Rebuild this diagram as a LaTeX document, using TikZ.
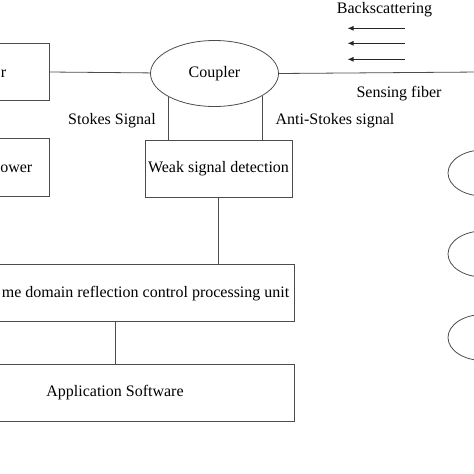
\documentclass[tikz,border=0pt]{standalone}
\usepackage{fontspec}
\setmainfont{Liberation Serif}
\usetikzlibrary{shapes.geometric,arrows.meta}
\tikzset{
  unitbox/.style={draw=black!70,line width=0.8pt,minimum height=57pt,inner sep=0pt},
  oval/.style={ellipse,draw=black!70,line width=0.8pt,inner sep=0pt},
  lbl/.style={inner sep=0pt,anchor=base},
}

\begin{document}
\begin{tikzpicture}[x=1pt,y=-1pt,font=\fontsize{16}{19}\selectfont]
\useasboundingbox (0,0) rectangle (474,474);
\clip (0,0) rectangle (474,474);
% left boxes, cut by the frame
\node[unitbox,minimum width=110pt] (laser) at (-6,71.5) {};
\node[lbl,anchor=base east] (laserlbl) at (6.5,77) {r};
\node[unitbox,minimum width=110pt,minimum height=58pt] (power) at (-6,167) {};
\node[lbl,anchor=base east] (powerlbl) at (32.5,172) {ower};
% coupler and fiber
\node[oval,minimum width=128pt,minimum height=66pt] (coupler) at (214.5,73.5) {Coupler};
\coordinate (fiberend) at (480,72);
\draw[black!70,line width=0.8pt] (laser) -- (coupler);
\draw[black!70,line width=0.8pt] (coupler.east) -- (fiberend);
\node[lbl] (fiberlbl) at (399,97) {Sensing fiber};
\node[lbl] (backlbl) at (384.5,13.3) {Backscattering};
\foreach \y [count=\k] in {28.3,43.3,59.3} {
  \coordinate (bs\k a) at (405,\y);
  \coordinate (bs\k b) at (347.5,\y);
  \draw[black!85,line width=1pt,-{Latex[length=6pt,width=5pt]}] (bs\k a) -- (bs\k b);
}
% detection
\node[unitbox,minimum width=147pt] (weak) at (218.5,168.5) {Weak signal detection};
\draw[black!70,line width=0.8pt] (coupler.-153) -- (coupler.-153 |- weak.north);
\draw[black!70,line width=0.8pt] (coupler.-25) -- (coupler.-25 |- weak.north);
\node[lbl] (stokes) at (112,124.3) {Stokes Signal};
\node[lbl] (antistokes) at (335,124.3) {Anti-Stokes signal};
% processing
\node[unitbox,minimum width=358pt] (proc) at (115,292.5) {};
\node[lbl,anchor=base east] (proclbl) at (289.5,297) {me domain reflection control processing unit};
\draw[black!70,line width=0.8pt] (weak.south) -- (weak.south |- proc.north);
\node[unitbox,minimum width=358pt] (app) at (115,392.5) {Application Software};
\draw[black!70,line width=0.8pt] (proc.south) -- (app.north);
% sensors on the right, cut by the frame
\node[oval,minimum width=70pt,minimum height=46pt] (sens1) at (483,173) {};
\node[oval,minimum width=70pt,minimum height=46pt] (sens2) at (483,254) {};
\node[oval,minimum width=70pt,minimum height=46pt] (sens3) at (483,337.5) {};
\end{tikzpicture}
\end{document}
